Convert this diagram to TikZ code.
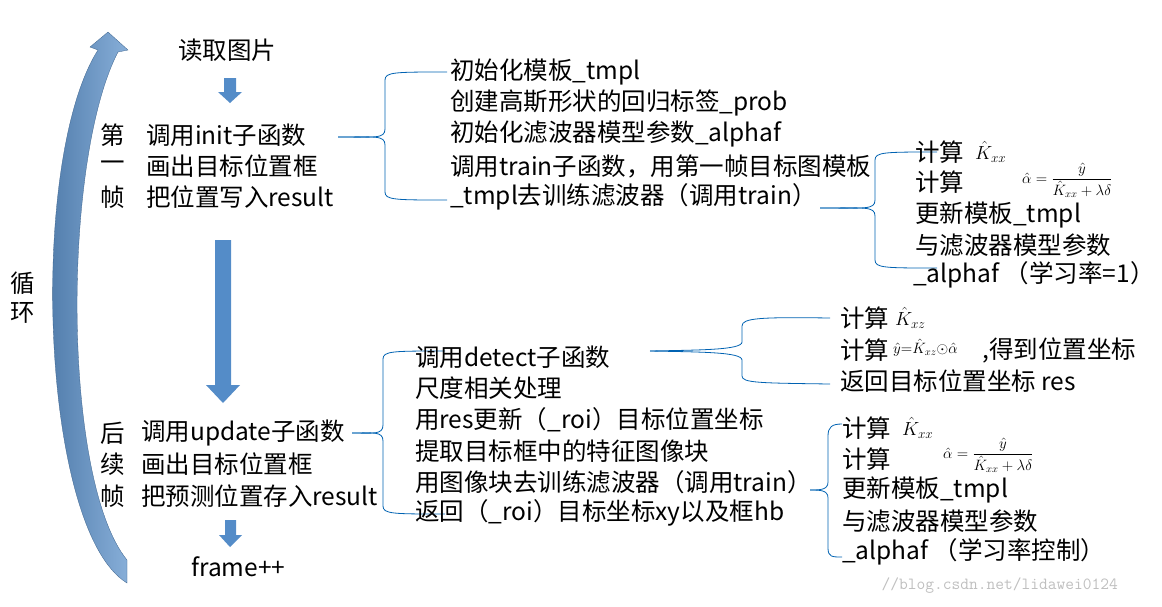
\RequirePackage{fix-cm}
\documentclass[tikz,border=0pt]{standalone}
\usepackage{fontspec}
\setmainfont{Noto Sans CJK SC}
\usetikzlibrary{arrows.meta}
\begin{document}
\begin{tikzpicture}[x=1pt,y=-1pt,
  txt/.style={anchor=west,inner sep=0pt,font=\fontsize{24.5}{24.5}\selectfont},
  mth/.style={anchor=west,inner sep=0pt,font=\fontsize{19}{19}\selectfont},
  frc/.style={anchor=west,inner sep=0pt,font=\fontsize{15}{15}\selectfont},
  brace/.style={draw=blue!45!cyan!70!black,line width=0.8pt}]
\useasboundingbox (0,0) rectangle (1162,606);
\definecolor{ab}{RGB}{84,140,200}
% big loop arrow
\shade[left color=ab!80!black,right color=ab!70!white,draw=ab!70!black,line width=0.3pt]
 (127,583) .. controls (40,530) and (28,160) .. (98,50)
 -- (90,47) -- (108,32) -- (128,50) -- (118,52)
 .. controls (62,160) and (62,480) .. (127,560) -- cycle;
\node[txt] (lp1) at (10,283) {循};
\node[txt] (lp2) at (10,313) {环};
% top
\node[txt] (read) at (178,50) {读取图片};
\fill[ab] (224,78) rectangle (236,92) (218,92) -- (242,92) -- (230,103) -- cycle;
\node[txt] (d1) at (100,135) {第};
\node[txt] (d2) at (100,166) {一};
\node[txt] (d3) at (100,197) {帧};
\node[txt] (a1) at (146,135) {调用init子函数};
\node[txt] (a2) at (146,166) {画出目标位置框};
\node[txt] (a3) at (146,197) {把位置写入result};
% big down arrow
\fill[ab] (215,240) rectangle (231,385) (206,385) -- (240,385) -- (223,403) -- cycle;
\node[txt] (h1) at (100,433) {后};
\node[txt] (h2) at (100,464) {续};
\node[txt] (h3) at (100,496) {帧};
\node[txt] (b1) at (141,433) {调用update子函数};
\node[txt] (b2) at (141,464) {画出目标位置框};
\node[txt] (b3) at (141,496) {把预测位置存入result};
\fill[ab] (225,520) rectangle (236,535) (219,535) -- (242,535) -- (230,547) -- cycle;
\node[txt] (fr) at (191,567) {frame++};
\newcommand{\brc}[5]{%
 \draw[brace] (#1,#2) .. controls (#3-10,#2) and (#3,#2+2) .. (#3,#2-8)
   -- (#3,#4+8) .. controls (#3,#4) and (#3+10,#4) .. (#3+62,#4);
 \draw[brace] (#1,#2) .. controls (#3-10,#2) and (#3,#2-2) .. (#3,#2+8)
   -- (#3,#5-8) .. controls (#3,#5) and (#3+10,#5) .. (#3+62,#5);}
\brc{338}{137}{385}{72}{200}
\node[txt] (c1) at (450,72) {初始化模板\_tmpl};
\node[txt] (c2) at (450,103) {创建高斯形状的回归标签\_prob};
\node[txt] (c3) at (450,134) {初始化滤波器模型参数\_alphaf};
\node[txt] (c4) at (450,166) {调用train子函数，用第一帧目标图模板};
\node[txt] (c5) at (450,197) {\_tmpl去训练滤波器（调用train）};
\brc{820}{208}{875}{152}{268}
\node[txt] (e1) at (915,152) {计算};
\node[mth] (f1) at (975,152) {$\hat K_{xx}$};
\node[frc] (f2) at (1022,180) {$\displaystyle\hat\alpha=\frac{\hat y}{\hat K_{xx}+\lambda\delta}$};
\node[txt] (e2) at (915,182) {计算};
\node[txt] (e3) at (915,215) {更新模板\_tmpl};
\node[txt] (e4) at (915,245) {与滤波器模型参数};
\node[txt] (e5) at (913,275) {\_alphaf （学习率=1）};
\brc{352}{433}{383}{351}{514}
\node[txt] (g1) at (415,357) {调用detect子函数};
\node[txt] (g2) at (415,388) {尺度相关处理};
\node[txt] (g3) at (415,420) {用res更新（\_roi）目标位置坐标};
\node[txt] (g4) at (415,451) {提取目标框中的特征图像块};
\node[txt] (g5) at (415,482) {用图像块去训练滤波器（调用train）};
\node[txt] (g6) at (415,513) {返回（\_roi）目标坐标xy以及框hb};
\draw[brace] (650,351) .. controls (700,350) and (742,350) .. (742,342) -- (742,326) .. controls (742,318) and (760,317) .. (830,318);
\draw[brace] (650,351) .. controls (700,352) and (742,352) .. (742,360) -- (742,376) .. controls (742,383) and (760,383) .. (830,384);
\node[txt] (i1) at (840,318) {计算};
\node[mth] (j1) at (895,318) {$\hat K_{xz}$};
\node[txt] (i2) at (840,350) {计算};
\node[frc] (j2) at (893,348) {$\hat y{=}\hat K_{xz}{\odot}\hat\alpha$};
\node[txt] (i2b) at (982,350) {,得到位置坐标};
\node[txt] (i3) at (840,381) {返回目标位置坐标 res};
\draw[brace] (810,490) .. controls (820,490) and (828,490) .. (828,482) -- (828,436) .. controls (828,427) and (832,424) .. (842,424);
\draw[brace] (810,490) .. controls (820,490) and (828,490) .. (828,498) -- (828,548) .. controls (828,557) and (832,557) .. (842,557);
\node[txt] (k1) at (842,428) {计算};
\node[mth] (m1) at (902,428) {$\hat K_{xx}$};
\node[txt] (k2) at (842,459) {计算};
\node[frc] (m2) at (943,455) {$\displaystyle\hat\alpha=\frac{\hat y}{\hat K_{xx}+\lambda\delta}$};
\node[txt] (k3) at (842,490) {更新模板\_tmpl};
\node[txt] (k4) at (842,521) {与滤波器模型参数};
\node[txt] (k5) at (842,552) {\_alphaf （学习率控制）};
\node[anchor=west,text=black!25,font=\fontfamily{lmtt}\fontsize{17}{17}\selectfont] (wm) at (878,586) {//blog.csdn.net/lidawei0124};
\end{tikzpicture}
\end{document}
